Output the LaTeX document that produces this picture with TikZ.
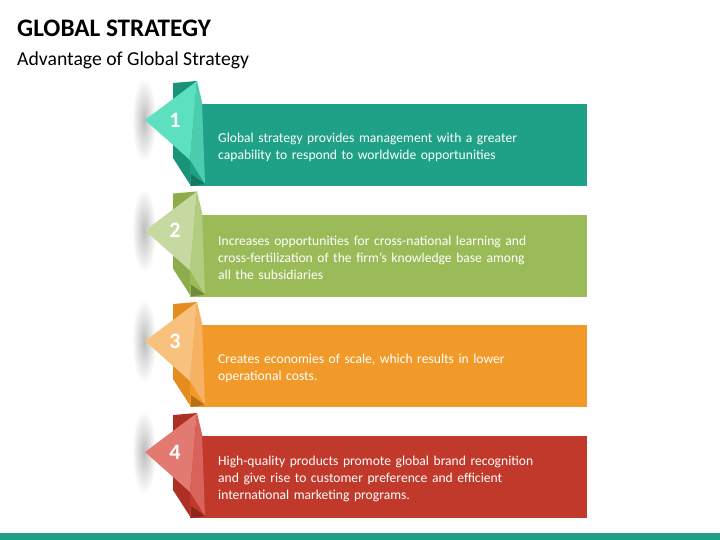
\documentclass[tikz,border=0pt]{standalone}
\usepackage{fontspec}
\setmainfont{Carlito}
\definecolor{tealM}{HTML}{1FA187}\definecolor{tealL}{HTML}{5DE0C0}\definecolor{tealD}{HTML}{1B937A}\definecolor{tealS}{HTML}{4CCDAE}
\definecolor{grnM}{HTML}{9BBB59}\definecolor{grnL}{HTML}{C5D9A0}\definecolor{grnD}{HTML}{8DAD4D}\definecolor{grnS}{HTML}{B2CC80}
\definecolor{orgM}{HTML}{F29A29}\definecolor{orgL}{HTML}{F8C27E}\definecolor{orgD}{HTML}{E58C1E}\definecolor{orgS}{HTML}{F6B262}
\definecolor{redM}{HTML}{C0392B}\definecolor{redL}{HTML}{E27A72}\definecolor{redD}{HTML}{AE3025}\definecolor{redS}{HTML}{D9625A}
\tikzset{
  bandbox/.style={rectangle, draw=none, minimum height=82pt, minimum width=397pt, anchor=north west, inner sep=0pt},
  bandtext/.style={anchor=west, text width=345pt, align=left, inner sep=0pt, text=white,
     font=\fontsize{13.6}{17}\selectfont},
  numlabel/.style={text=white, font=\fontsize{22}{22}\selectfont\bfseries, inner sep=0pt},
  shadowell/.style={inner color=black!26, outer color=white, draw=none}
}
\newcommand\strategyband[7]{%
  % #1 id, #2 top y, #3 main, #4 light, #5 dark, #6 strip, #7 text
  \begin{scope}[shift={(190,#2)}]
    \shade[shadowell] (-46,16) ellipse [x radius=12, y radius=42];
    \fill[#5] (-17,-21) -- (7,-23) -- (15,80) -- (1,82) -- (-17,54) -- cycle;
    \node[bandbox, fill=#3] (box#1) at (0,0) {};
    \node[bandtext] (text#1) at ([xshift=28pt, yshift=-2pt]box#1.west) {#7};
    \fill[#5!80!black] (1,70) -- (15,80) -- (1,82) -- cycle;
    \fill[#4] (-45,16) -- (7,-23) -- (0,56) -- cycle;
    \fill[#6] (7,-23) -- (12,-2) -- (15,80) -- (0,56) -- cycle;
    \node[numlabel] (num#1) at (-15,16) {#1};
  \end{scope}
}
\begin{document}
\begin{tikzpicture}[x=1pt,y=-1pt]
\useasboundingbox (0,0) rectangle (720,540);
\fill[white] (0,0) rectangle (720,540);
\node[anchor=base west, inner sep=0pt, font=\fontsize{25.2}{25}\selectfont\bfseries] (title) at (17,37) {GLOBAL STRATEGY};
\node[anchor=base west, inner sep=0pt, font=\fontsize{19.7}{19}\selectfont] (subtitle) at (17,66) {Advantage of Global Strategy};
\strategyband{1}{104}{tealM}{tealL}{tealD}{tealS}{Global strategy provides management with a greater\\capability to respond to worldwide opportunities}
\strategyband{2}{214.5}{grnM}{grnL}{grnD}{grnS}{Increases opportunities for cross-national learning and\\cross-fertilization of the firm's knowledge base among\\all the subsidiaries}
\strategyband{3}{325}{orgM}{orgL}{orgD}{orgS}{Creates economies of scale, which results in lower\\operational costs.}
\strategyband{4}{436}{redM}{redL}{redD}{redS}{High-quality products promote global brand recognition\\and give rise to customer preference and efficient\\international marketing programs.}
\fill[tealM] (0,533) rectangle (720,540);
\end{tikzpicture}
\end{document}
